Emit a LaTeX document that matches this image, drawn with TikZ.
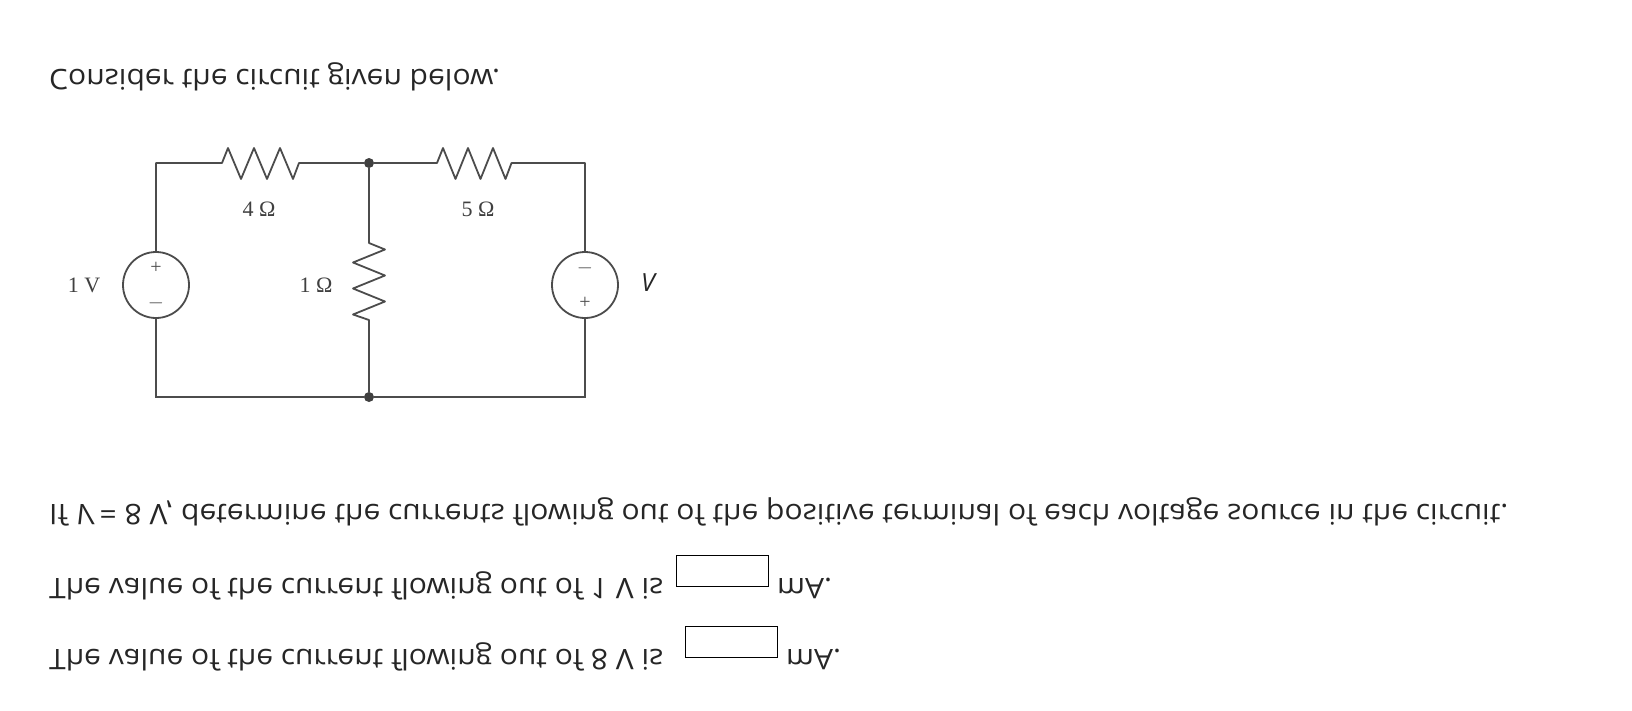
\documentclass[tikz,border=0pt]{standalone}
\usepackage{fontspec}
\setmainfont{Open Sans}
\newfontfamily\serifc{Liberation Serif}
\begin{document}
\begin{tikzpicture}[x=1pt,y=-1pt,
  wire/.style={line width=1.8pt,draw=black!70},
  qtext/.style={anchor=base west,inner sep=0pt,font=\fontsize{28.3}{32}\selectfont,text=black!85,xscale=1.06,yscale=-1,transform shape},
  clab/.style={font=\serifc\fontsize{22}{24}\selectfont,text=black!75},
  pm/.style={font=\serifc\fontsize{20}{20}\selectfont,text=black!70},
  src/.style={circle,draw=black!70,line width=1.8pt,minimum size=66pt,inner sep=0pt},
  ansbox/.style={draw=black,line width=1.4pt,minimum width=92pt,minimum height=31pt,inner sep=0pt},
  dot/.style={circle,fill=black!75,inner sep=0pt,minimum size=10pt}]
\useasboundingbox (0,0) rectangle (1632,710);
\node[qtext] (t1) at (49,69) {Consider the circuit given below.};
\node[qtext] (t2) at (49,504) {If \textit{V}\,= 8 V, determine the currents flowing out of the positive terminal of each voltage source in the circuit.};
\node[qtext] (t3) at (49,578) {The value of the current flowing out of 1 V is};
\node[ansbox,anchor=west] (b1) at (676,571) {};
\node[qtext] (t3b) at (777,578) {mA.};
\node[qtext] (t4) at (49,649) {The value of the current flowing out of 8 V is};
\node[ansbox,anchor=west] (b2) at (685,642) {};
\node[qtext] (t4b) at (786,649) {mA.};
% circuit
\coordinate (tl) at (156,163); \coordinate (tr) at (585,163);
\coordinate (bl) at (156,397); \coordinate (br) at (585,397);
\node[dot] (nt) at (369,163) {}; \node[dot] (nb) at (369,397) {};
\node[src] (s1) at (156,285) {};
\node[src] (s2) at (585,285) {};
\node[pm] at (156,268) {+};
\node[pm] at (156,303) {$-$};
\node[pm] at (585,268) {$-$};
\node[pm] at (585,303) {+};
\coordinate (r4a) at (222,163); \coordinate (r5a) at (437,163); \coordinate (r1a) at (369,243);
\draw[wire,line join=round] (s1.north) -- (tl) -- (r4a)
  -- ++(6,-15) -- ++(13,31) -- ++(13,-31) -- ++(13,31) -- ++(13,-31) -- ++(13,31) -- ++(6,-16) -- (nt);
\draw[wire,line join=round] (nt) -- (r5a)
  -- ++(6,-15) -- ++(12.5,31) -- ++(12.5,-31) -- ++(12.5,31) -- ++(12.5,-31) -- ++(12.5,31) -- ++(6,-16) -- (tr) -- (s2.north);
\draw[wire,line join=round] (nt) -- (r1a)
  -- ++(16,6.5) -- ++(-32,13) -- ++(32,13) -- ++(-32,13) -- ++(32,13) -- ++(-32,13) -- ++(16,5.5) -- (nb);
\draw[wire] (s1.south) -- (bl) -- (nb) -- (br) -- (s2.south);
\node[clab] (l4) at (259,209) {4 Ω};
\node[clab] (l5) at (478,209) {5 Ω};
\node[clab] (l1) at (316,285) {1 Ω};
\node[clab] (lv1) at (84,285) {1 V};
\node[font=\fontsize{25}{28}\selectfont\itshape,text=black!85] (lv) at (648,283) {V};
\end{tikzpicture}
\end{document}
